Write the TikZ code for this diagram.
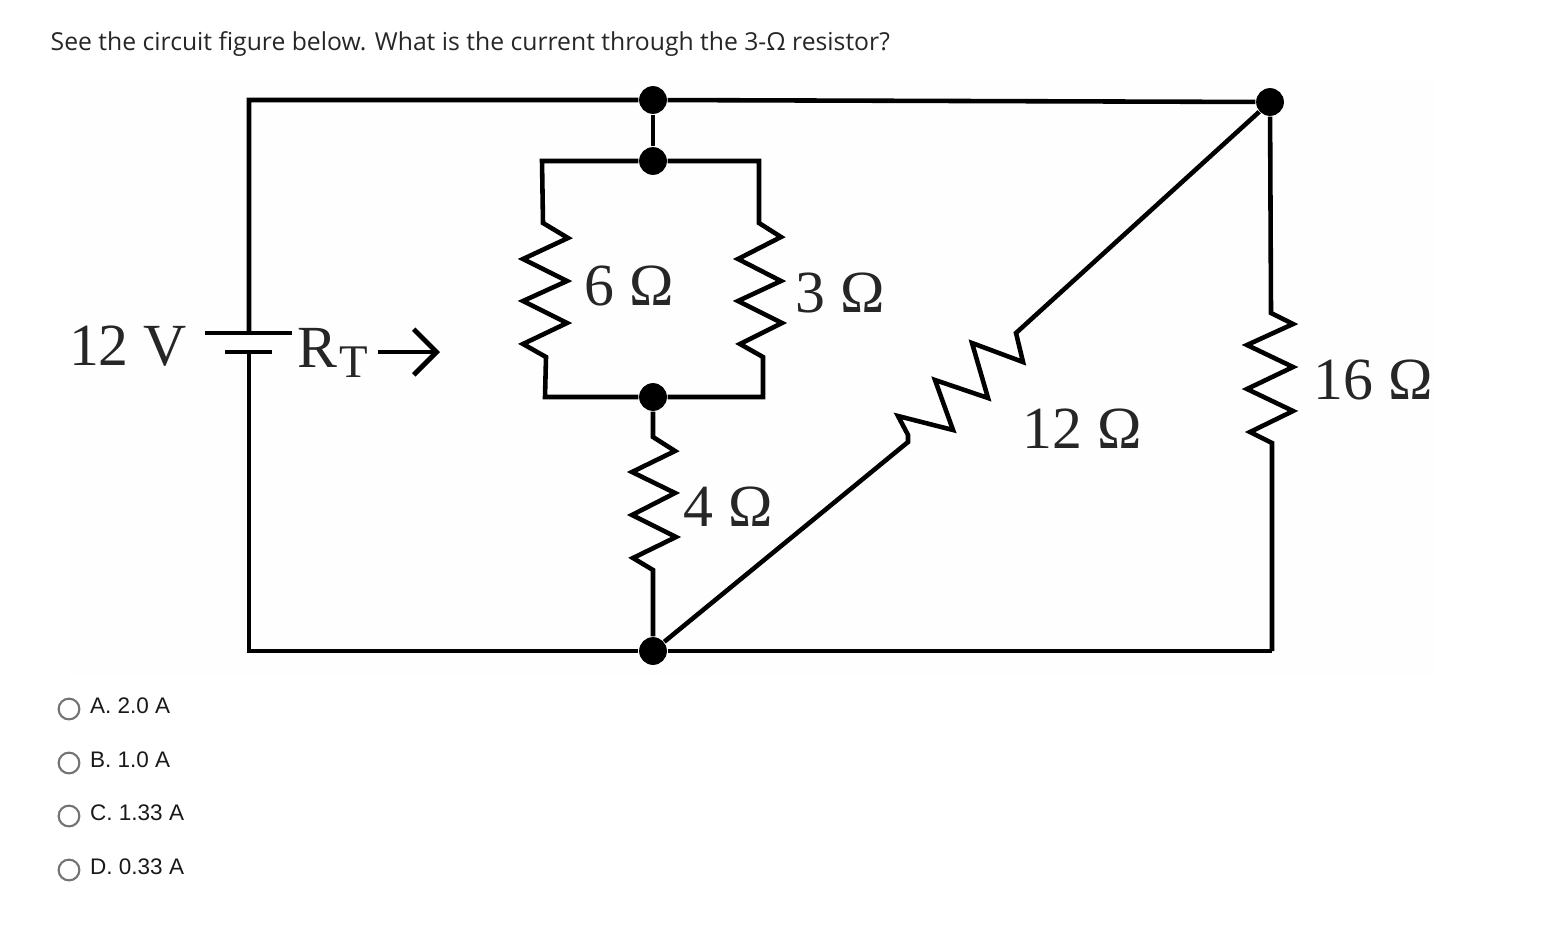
\documentclass[tikz,border=0pt]{standalone}
\usepackage{fontspec}
\usepackage{amsmath}
\usepackage{xcolor}
\setmainfont{Liberation Serif}
\newfontfamily\titlefont{Open Sans}
\newfontfamily\optionfont{Liberation Sans}
\usetikzlibrary{arrows.meta}

\tikzset{
    wire/.style={line width=1.3pt, line join=miter},
    dotnode/.style={circle, fill=black, inner sep=0pt, minimum size=7.9pt},
    valuelabel/.style={inner sep=0pt, font=\fontsize{17}{17}\selectfont, text=black!85},
    optionlabel/.style={inner sep=0pt, anchor=west, font=\optionfont\fontsize{6.4}{6.4}\selectfont, text=black!90},
    radiobox/.style={circle, draw=black!55, line width=0.6pt, inner sep=0pt, minimum size=5.9pt}
}

\begin{document}
\begin{tikzpicture}[x=0.01cm, y=-0.01cm]

    \useasboundingbox (0,0) rectangle (1555,951);

    % Faint scan area behind the circuit
    \fill[black!0.4] (68,80) rectangle (1435,675);

    % Question line
    \node[inner sep=0pt, anchor=west, font=\titlefont\fontsize{7.03}{7.03}\selectfont, text=black!85] (question) at (50,44) {See the circuit figure below. What is the current through the 3-Ω resistor?};

    % Junctions
    \node[dotnode] (top) at (653,100) {};
    \node[dotnode] (upper) at (653,161) {};
    \node[dotnode] (lower) at (653,397) {};
    \node[dotnode] (bottom) at (653,651) {};
    \node[dotnode] (corner) at (1270,102) {};

    % Corners and battery plates
    \coordinate (topleft) at (249,100);
    \coordinate (botleft) at (249,651);
    \coordinate (botright) at (1272,651);
    \coordinate (plateA) at (249,333);
    \coordinate (plateB) at (249,352);
    \coordinate (plateAl) at (205,333);
    \coordinate (plateAr) at (292,333);
    \coordinate (plateBl) at (225,352);
    \coordinate (plateBr) at (272,352);

    % Outer loop with the battery
    \draw[wire] (plateA) -- (topleft) -- (top) -- (corner);
    \draw[wire] (plateB) -- (botleft) -- (bottom) -- (botright);
    \draw[wire] (plateAl) -- (plateAr);
    \draw[wire] (plateBl) -- (plateBr);
    \draw[wire] (top) -- (upper);

    % 6 ohm branch
    \draw[wire] (upper) -- (542,161) -- (543,223) -- (568,238) -- (523,259) -- (567,281) -- (523,301) -- (567,323) -- (523,344) -- (546,357) -- (545,397) -- (lower);
    % 3 ohm branch
    \draw[wire] (upper) -- (759,161) -- (759,223) -- (781,237) -- (738,259) -- (781,281) -- (738,301) -- (782,323) -- (740,344) -- (763,357) -- (763,397) -- (lower);
    % 4 ohm branch
    \draw[wire] (lower) -- (653,437) -- (675,451) -- (632,472) -- (675,493) -- (632,515) -- (676,537) -- (633,558) -- (653,570) -- (bottom);
    % 16 ohm branch
    \draw[wire] (corner) -- (1271,313) -- (1293,324) -- (1247,345) -- (1293,367) -- (1247,389) -- (1293,411) -- (1250,432) -- (1272,443) -- (botright);
    % 12 ohm diagonal
    \draw[wire] (bottom) -- (908,442) -- (908,435) -- (898,416) -- (953,430) -- (935,380) -- (988,398) -- (972,343) -- (1023,362) -- (1016,333) -- (corner);

    % Values
    \node[valuelabel] (vsource) at (128,346) {12 V};
    \node[valuelabel, anchor=west] (rtotal) at (297,353) {R\kern0.5pt\raisebox{-3pt}{\fontsize{13.3}{13.3}\selectfont T}};
    \node[valuelabel] (six) at (629,286) {6 Ω};
    \node[valuelabel] (three) at (840,293) {3 Ω};
    \node[valuelabel] (four) at (728,507) {4 Ω};
    \node[valuelabel] (twelve) at (1082,429) {12 Ω};
    \node[valuelabel] (sixteen) at (1373,380) {16 Ω};

    % Total current arrow
    \coordinate (arrowtail) at (378,352);
    \coordinate (arrowtip) at (440,352);
    \draw[wire, -{Straight Barb[length=6.5pt, width=13pt, line width=1.4pt]}] (arrowtail) -- (arrowtip);

    % Answer choices
    \foreach \name/\y/\txt in {a/706/{A. 2.0 A}, b/760/{B. 1.0 A}, c/813/{C. 1.33 A}, d/867/{D. 0.33 A}} {
        \node[radiobox] (radio\name) at (69,\y+3) {};
        \node[optionlabel] (option\name) at (89.5,\y) {\txt};
    }

\end{tikzpicture}
\end{document}
